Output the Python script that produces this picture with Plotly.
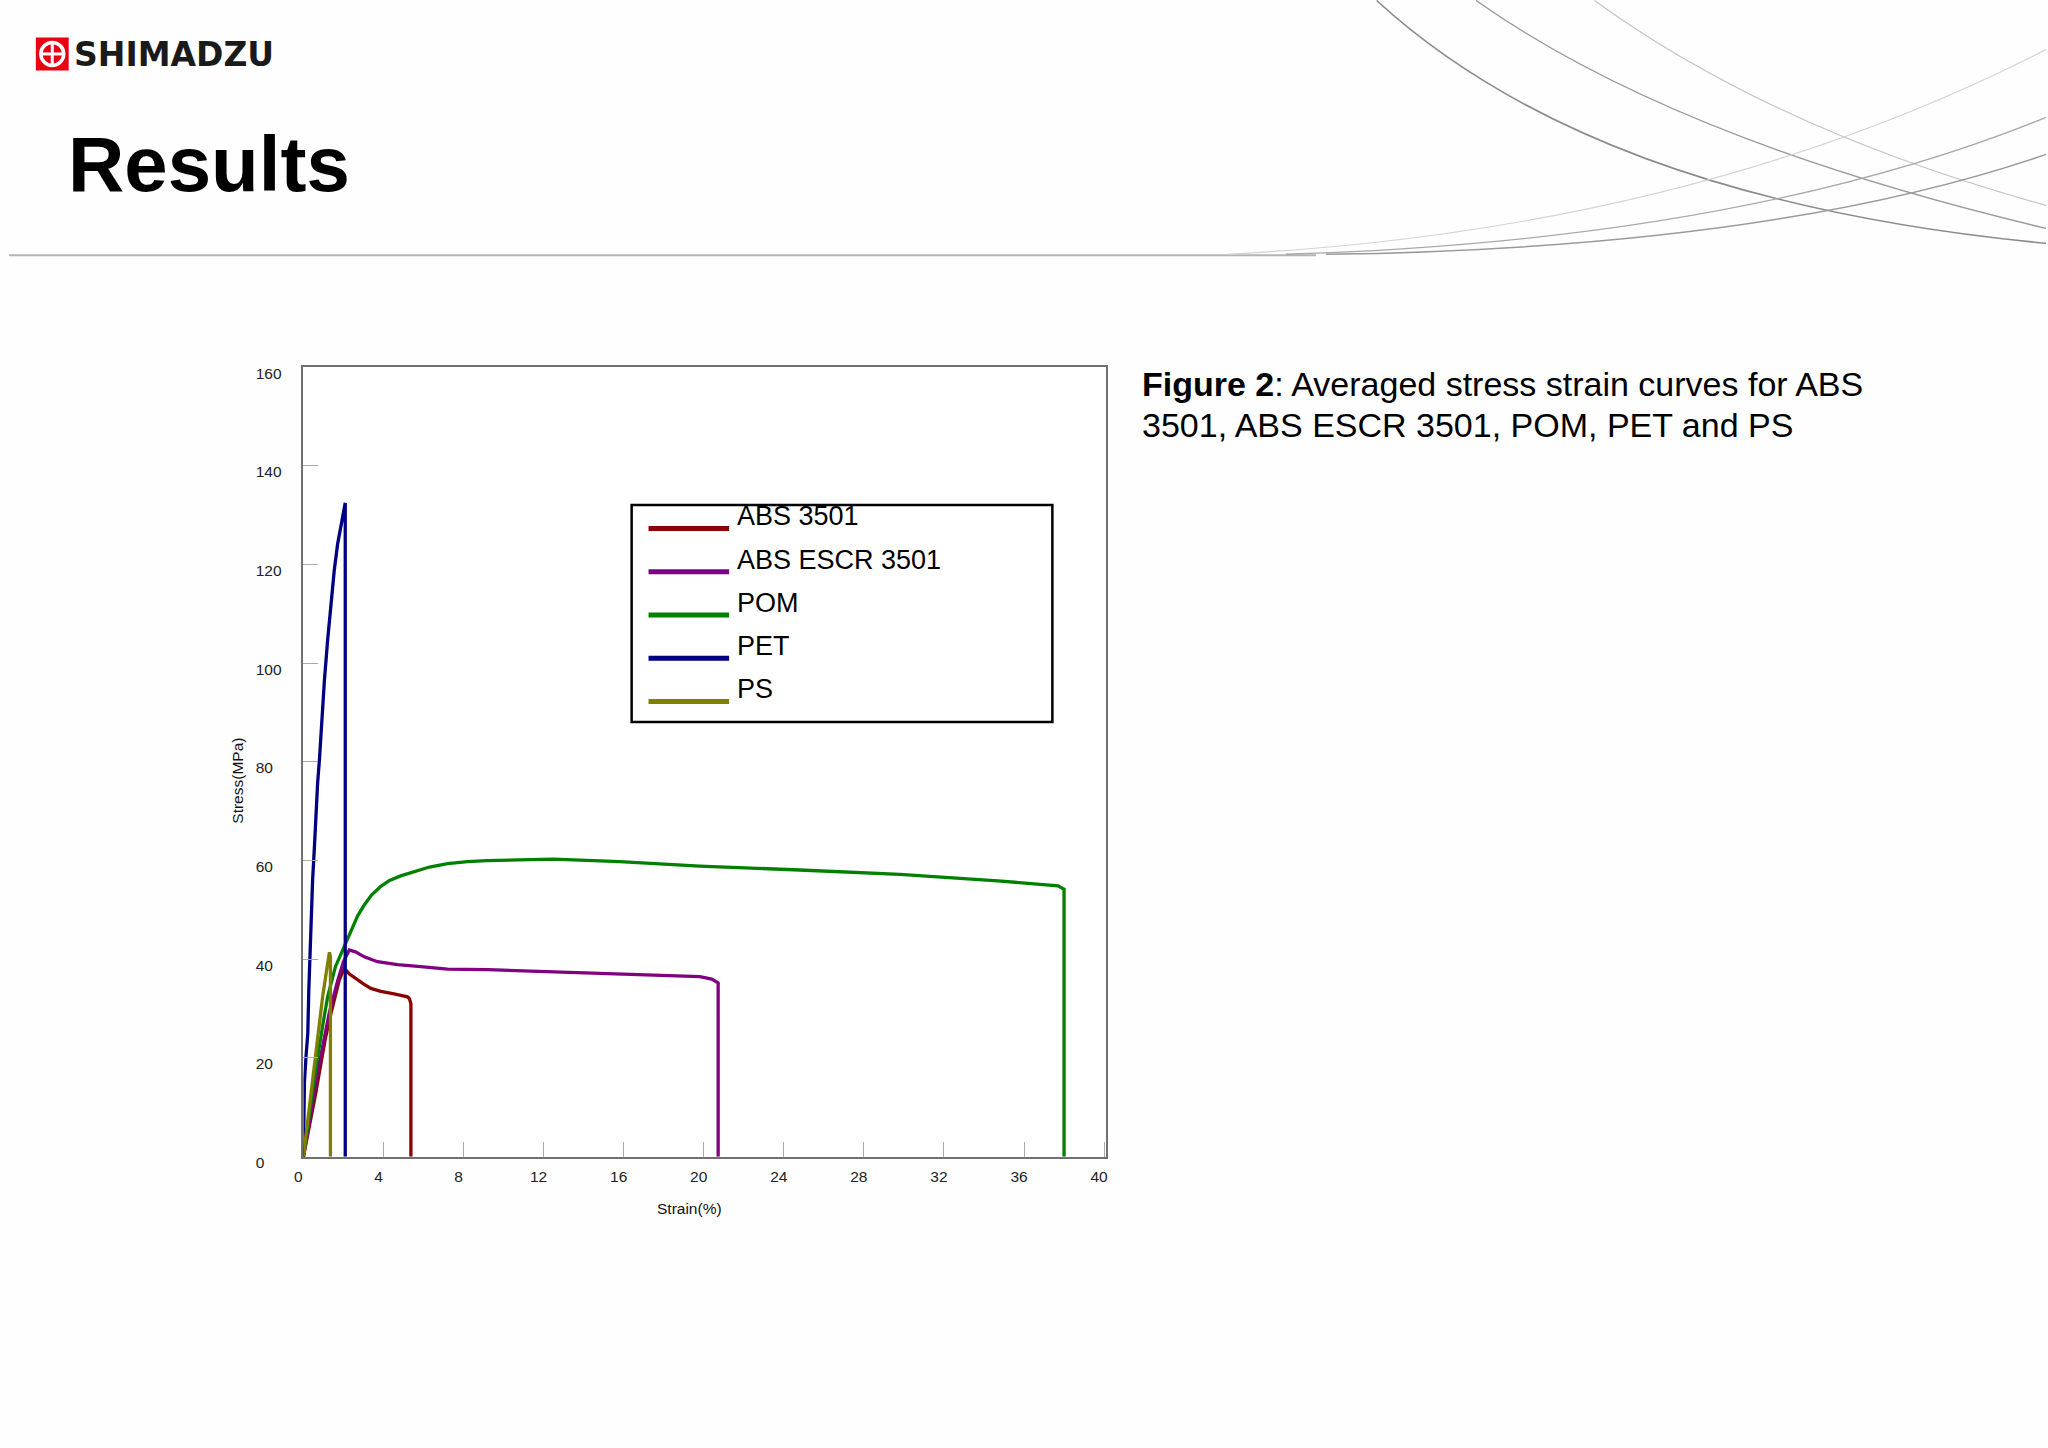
import plotly.graph_objects as go

# ---------------- data ----------------
series_names = ["ABS 3501", "ABS ESCR 3501", "POM", "PET", "PS"]
series_colors = ["#8b0000", "#800080", "#008000", "#000080", "#808000"]

abs_strain = [0, 0.3, 0.6, 0.88, 1.1, 1.38, 1.6, 1.79, 1.95, 2.04, 2.3, 2.7, 3.0, 3.37, 3.87, 4.53, 5.2, 5.3, 5.37, 5.37]
abs_stress = [0, 6, 12.5, 19, 24, 29.1, 32.8, 35.8, 37.4, 38.2, 37.0, 35.8, 35.0, 34.1, 33.5, 33.0, 32.4, 32.0, 31.0, 0]

escr_strain = [0, 0.4, 0.8, 1.29, 1.7, 2.0, 2.29, 2.6, 3.04, 3.7, 4.7, 5.86, 7.2, 9.2, 12.5, 15.8, 18.0, 19.8, 20.4, 20.72, 20.72]
escr_stress = [0, 9.5, 19, 29.1, 35.5, 39.5, 41.9, 41.5, 40.5, 39.5, 38.9, 38.5, 38.0, 37.9, 37.5, 37.0, 36.7, 36.5, 36.0, 35.2, 0]

pom_strain = [0, 0.33, 0.66, 1.0, 1.21, 1.6, 2.08, 2.4, 2.71, 3.04, 3.4, 3.87, 4.3, 4.86, 5.53, 6.3, 7.2, 8.2, 9.18, 12.5, 15.8, 19.8, 24.8, 29.8, 34.7, 37.7, 38.0, 38.0]
pom_stress = [0, 10, 19, 27.5, 32.4, 38.5, 43.1, 46.2, 48.8, 51.0, 53.0, 54.8, 56.0, 56.9, 57.8, 58.7, 59.4, 59.8, 60.0, 60.3, 59.8, 58.9, 58.1, 57.2, 55.9, 54.9, 54.2, 0]

pet_strain = [0, 0.02, 0.05, 0.13, 0.22, 0.27, 0.33, 0.38, 0.46, 0.55, 0.63, 0.71, 0.80, 0.88, 1.05, 1.21, 1.38, 1.54, 1.71, 1.88, 2.04, 2.09, 2.09]
pet_stress = [0, 8, 15, 20.3, 25, 33.8, 41.3, 46, 56.1, 62.8, 69.6, 75.7, 80.4, 86.4, 96.6, 104.7, 112.1, 118.8, 124.2, 128.3, 132.3, 132.5, 0]

ps_strain = [0, 0.25, 0.55, 0.96, 1.15, 1.30, 1.35, 1.35]
ps_stress = [0, 8.5, 19, 32.4, 37.5, 41.4, 40.5, 0]

x_ticks = [0, 4, 8, 12, 16, 20, 24, 28, 32, 36, 40]
y_ticks = [0, 20, 40, 60, 80, 100, 120, 140, 160]

x_title = "Strain(%)"
y_title = "Stress(MPa)"
page_title = "Results"
caption_bold = "Figure 2"
caption_line1 = ": Averaged stress strain curves for ABS"
caption_line2 = "3501, ABS ESCR 3501, POM, PET and PS"
logo_text = "SHIMADZU"

# ---------------- layout helpers ----------------
W, H = 2048, 1448


def X(t):
    # target page pixel -> layout pixel (compensates page offset)
    return t - 6


def Y(t):
    return (t - 2.5) / 0.989


def px(x):
    return X(x) / W


def py(y):
    return 1 - Y(y) / H


FONT = "Liberation Sans, Arial, sans-serif"

fig = go.Figure()

all_x = [abs_strain, escr_strain, pom_strain, pet_strain, ps_strain]
all_y = [abs_stress, escr_stress, pom_stress, pet_stress, ps_stress]
for name, color, xs, ys in zip(series_names, series_colors, all_x, all_y):
    fig.add_trace(go.Scatter(x=xs, y=ys, mode="lines", name=name,
                             line=dict(color=color, width=3.3),
                             showlegend=False))

# y tick labels left aligned using figure spaces
maxlen = max(len(str(v)) for v in y_ticks)
y_ticktext = [str(v) + "\u2007" * (maxlen - len(str(v))) for v in y_ticks]

shapes = []
annotations = []

# ---------- manual legend ----------
lx0, ly0, lx1, ly1 = 632, 505, 1055, 722
shapes.append(dict(type="rect", xref="paper", yref="paper",
                   x0=px(lx0), x1=px(lx1), y0=py(ly1), y1=py(ly0),
                   line=dict(color="#000000", width=2.5), fillcolor="rgba(0,0,0,0)", layer="above"))
for i, (name, color) in enumerate(zip(series_names, series_colors)):
    yy = 528.3 + 43.3 * i
    shapes.append(dict(type="line", xref="paper", yref="paper",
                       x0=px(649), x1=px(730), y0=py(yy), y1=py(yy),
                       line=dict(color=color, width=5)))
    annotations.append(dict(text=name, xref="paper", yref="paper",
                            x=px(736), y=py(yy - 12), xanchor="left", yanchor="middle",
                            showarrow=False, font=dict(family=FONT, size=27, color="#000000")))

# ---------- axis titles ----------
annotations.append(dict(text=x_title, xref="paper", yref="paper", x=px(690), y=py(1209),
                        xanchor="center", yanchor="middle", showarrow=False,
                        font=dict(family=FONT, size=15.5, color="#111111")))
annotations.append(dict(text=y_title, xref="paper", yref="paper", x=px(236), y=py(781),
                        xanchor="center", yanchor="middle", showarrow=False, textangle=-90,
                        font=dict(family=FONT, size=15.5, color="#111111")))

# ---------- header ----------
annotations.append(dict(text="<b>" + page_title + "</b>", xref="paper", yref="paper",
                        x=px(63), y=py(164), xanchor="left", yanchor="middle", showarrow=False,
                        font=dict(family=FONT, size=78, color="#000000")))
annotations.append(dict(text="<b>" + logo_text + "</b>", xref="paper", yref="paper",
                        x=px(69), y=py(54), xanchor="left", yanchor="middle", showarrow=False,
                        font=dict(family="DejaVu Sans, sans-serif", size=33, color="#1a1a1a")))
annotations.append(dict(text="<b>" + caption_bold + "</b>" + caption_line1, xref="paper", yref="paper",
                        x=px(1143), y=py(384), xanchor="left", yanchor="middle", showarrow=False,
                        font=dict(family=FONT, size=34, color="#000000")))
annotations.append(dict(text=caption_line2, xref="paper", yref="paper",
                        x=px(1143), y=py(425), xanchor="left", yanchor="middle", showarrow=False,
                        font=dict(family=FONT, size=34, color="#000000")))

# logo mark
lgx = -3
shapes.append(dict(type="rect", xref="paper", yref="paper", x0=px(36 + lgx), x1=px(69 + lgx), y0=py(70), y1=py(37),
                   fillcolor="#e60012", line=dict(width=0)))
shapes.append(dict(type="circle", xref="paper", yref="paper", x0=px(41 + lgx), x1=px(64 + lgx), y0=py(65), y1=py(42),
                   fillcolor="rgba(0,0,0,0)", line=dict(color="white", width=3.5)))
shapes.append(dict(type="line", xref="paper", yref="paper", x0=px(52.5 + lgx), x1=px(52.5 + lgx), y0=py(64), y1=py(43),
                   line=dict(color="white", width=3)))
shapes.append(dict(type="line", xref="paper", yref="paper", x0=px(42 + lgx), x1=px(63 + lgx), y0=py(53.5), y1=py(53.5),
                   line=dict(color="white", width=3)))

# header rule
shapes.append(dict(type="line", xref="paper", yref="paper", x0=0, x1=px(1320), y0=py(255), y1=py(255),
                   line=dict(color="#b4b4b4", width=2)))


def qpath(p0, c, p1):
    return "M {} {} Q {} {} {} {}".format(px(p0[0]), py(p0[1]), px(c[0]), py(c[1]), px(p1[0]), py(p1[1]))


arcs = [
    ((1381, 0), (1600, 200), (2054, 243), "#8a8a8a", 1.6),
    ((1481, 0), (1680, 140), (2054, 228), "#9a9a9a", 1.4),
    ((1600, 0), (1780, 130), (2054, 205), "#c4c4c4", 1.2),
    ((1230, 254), (1700, 230), (2054, 49), "#d2d2d2", 1.2),
    ((1290, 254), (1750, 240), (2054, 117), "#a8a8a8", 1.4),
    ((1330, 254), (1780, 248), (2054, 154), "#999999", 1.5),
]
for p0, c, p1, col, wd in arcs:
    shapes.append(dict(type="path", xref="paper", yref="paper", path=qpath(p0, c, p1),
                       line=dict(color=col, width=wd)))

fig.update_layout(
    width=W, height=H,
    margin=dict(l=0, r=0, t=0, b=0),
    paper_bgcolor="#fefefe",
    plot_bgcolor="#ffffff",
    showlegend=False,
    shapes=shapes,
    annotations=annotations,
    xaxis=dict(domain=[px(302), px(1109)], range=[0, 40.1],
               tickvals=x_ticks, ticktext=[str(v) for v in x_ticks],
               ticks="inside", ticklen=15, tickwidth=1, tickcolor="#aaaaaa",
               showline=True, linecolor="#707070", linewidth=1.5, mirror=True,
               showgrid=False, zeroline=False,
               ticklabelstandoff=5, ticklabelshift=-5,
               tickfont=dict(family=FONT, size=15.5, color="#222222")),
    yaxis=dict(domain=[py(1157), py(367)], range=[0, 160],
               tickvals=y_ticks, ticktext=y_ticktext,
               ticks="inside", ticklen=15, tickwidth=1, tickcolor="#aaaaaa",
               showline=True, linecolor="#707070", linewidth=1.5, mirror=True,
               showgrid=False, zeroline=False,
               ticklabelstandoff=17, ticklabelshift=6,
               tickfont=dict(family=FONT, size=15.5, color="#222222")),
)

fig.write_html("out.html",
               config={"displayModeBar": False},
               post_script="document.body.style.margin='0';document.body.style.padding='0';"
                           "document.documentElement.style.overflow='hidden';")
